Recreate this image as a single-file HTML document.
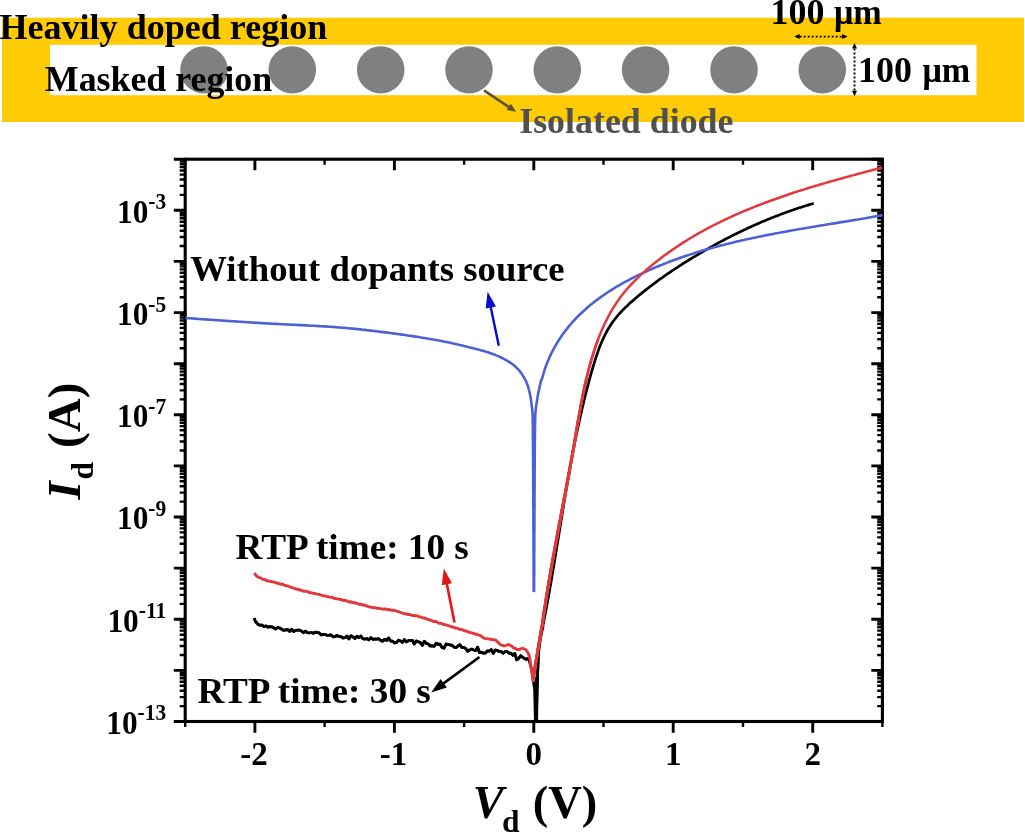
<!DOCTYPE html>
<html lang="en"><head><meta charset="utf-8"><title>Diode I-V characteristics</title>
<style>html,body{margin:0;padding:0;background:#fff}body{width:1025px;height:837px;overflow:hidden}svg{display:block}</style></head>
<body>
<svg width="1025" height="837" viewBox="0 0 1025 837">
<rect width="1025" height="837" fill="#fff"/>
<rect x="2" y="17.7" width="1022" height="104.3" fill="#ffcb05"/>
<rect x="50" y="44.8" width="926.5" height="50.4" fill="#fff"/>
<ellipse cx="204.0" cy="69.85" rx="23.8" ry="23.6" fill="#808080"/>
<ellipse cx="292.3" cy="69.85" rx="23.8" ry="23.6" fill="#808080"/>
<ellipse cx="380.7" cy="69.85" rx="23.8" ry="23.6" fill="#808080"/>
<ellipse cx="469.0" cy="69.85" rx="23.8" ry="23.6" fill="#808080"/>
<ellipse cx="557.3" cy="69.85" rx="23.8" ry="23.6" fill="#808080"/>
<ellipse cx="645.6" cy="69.85" rx="23.8" ry="23.6" fill="#808080"/>
<ellipse cx="734.0" cy="69.85" rx="23.8" ry="23.6" fill="#808080"/>
<ellipse cx="822.3" cy="69.85" rx="23.8" ry="23.6" fill="#808080"/>
<g font-family="'Liberation Serif','Times New Roman',serif" font-weight="bold" font-size="35.9px" fill="#000">
<text x="-0.5" y="39.1" textLength="327.8" lengthAdjust="spacingAndGlyphs">Heavily doped region</text>
<text x="44.8" y="90.7" textLength="227.4" lengthAdjust="spacingAndGlyphs">Masked region</text>
<text x="770.5" y="24.4">100</text><text x="834" y="24.4" textLength="47.8" lengthAdjust="spacingAndGlyphs">μm</text>
<text x="858" y="82.1">100</text><text x="922.4" y="82.1" textLength="47.8" lengthAdjust="spacingAndGlyphs">μm</text>
<text x="519.2" y="133.1" fill="#505050" textLength="214.3" lengthAdjust="spacingAndGlyphs">Isolated diode</text>
</g>
<line x1="484.0" y1="90.3" x2="509.5" y2="107.4" stroke="#5c5138" stroke-width="2.6"/><polygon points="516.2,111.8 506.6,109.9 510.8,103.7" fill="#5c5138"/>
<line x1="799.7" y1="36.6" x2="843.1" y2="36.6" stroke="#000" stroke-width="1.9" stroke-dasharray="1.9 2.1"/><polygon points="847.6,36.6 842.1,39.1 842.1,34.1" fill="#000"/><polygon points="794.2,36.6 799.7,39.1 799.7,34.1" fill="#000"/>
<line x1="854.5" y1="48.5" x2="854.5" y2="91.8" stroke="#000" stroke-width="1.9" stroke-dasharray="1.9 2.1"/><polygon points="854.5,96.3 852.0,90.8 857.0,90.8" fill="#000"/><polygon points="854.5,43.0 852.0,48.5 857.0,48.5" fill="#000"/>
<rect x="185.2" y="159.2" width="697.2" height="562.3" fill="none" stroke="#000" stroke-width="3.1"/>
<path d="M254.9 721.5v11.2M254.9 159.2v11M394.4 721.5v11.2M394.4 159.2v11M533.8 721.5v11.2M533.8 159.2v11M673.2 721.5v11.2M673.2 159.2v11M812.7 721.5v11.2M812.7 159.2v11M185.2 721.5h-11.4M882.4 721.5h-11.1M185.2 670.4h-11.4M882.4 670.4h-11.1M185.2 619.3h-11.4M882.4 619.3h-11.1M185.2 568.1h-11.4M882.4 568.1h-11.1M185.2 517.0h-11.4M882.4 517.0h-11.1M185.2 465.9h-11.4M882.4 465.9h-11.1M185.2 414.8h-11.4M882.4 414.8h-11.1M185.2 363.7h-11.4M882.4 363.7h-11.1M185.2 312.6h-11.4M882.4 312.6h-11.1M185.2 261.4h-11.4M882.4 261.4h-11.1M185.2 210.3h-11.4M882.4 210.3h-11.1M185.2 159.2h-11.4M882.4 159.2h-11.1" stroke="#000" stroke-width="2.9" fill="none"/>
<path d="M185.2 721.5v5.6M185.2 159.2v5.6M324.6 721.5v5.6M324.6 159.2v5.6M464.1 721.5v5.6M464.1 159.2v5.6M603.5 721.5v5.6M603.5 159.2v5.6M743.0 721.5v5.6M743.0 159.2v5.6M882.4 721.5v5.6M882.4 159.2v5.6M185.2 706.1h-5.5M882.4 706.1h-5.2M185.2 697.1h-5.5M882.4 697.1h-5.2M185.2 690.7h-5.5M882.4 690.7h-5.2M185.2 685.8h-5.5M882.4 685.8h-5.2M185.2 681.7h-5.5M882.4 681.7h-5.2M185.2 678.3h-5.5M882.4 678.3h-5.2M185.2 675.3h-5.5M882.4 675.3h-5.2M185.2 672.7h-5.5M882.4 672.7h-5.2M185.2 655.0h-5.5M882.4 655.0h-5.2M185.2 646.0h-5.5M882.4 646.0h-5.2M185.2 639.6h-5.5M882.4 639.6h-5.2M185.2 634.7h-5.5M882.4 634.7h-5.2M185.2 630.6h-5.5M882.4 630.6h-5.2M185.2 627.2h-5.5M882.4 627.2h-5.2M185.2 624.2h-5.5M882.4 624.2h-5.2M185.2 621.6h-5.5M882.4 621.6h-5.2M185.2 603.9h-5.5M882.4 603.9h-5.2M185.2 594.9h-5.5M882.4 594.9h-5.2M185.2 588.5h-5.5M882.4 588.5h-5.2M185.2 583.5h-5.5M882.4 583.5h-5.2M185.2 579.5h-5.5M882.4 579.5h-5.2M185.2 576.1h-5.5M882.4 576.1h-5.2M185.2 573.1h-5.5M882.4 573.1h-5.2M185.2 570.5h-5.5M882.4 570.5h-5.2M185.2 552.8h-5.5M882.4 552.8h-5.2M185.2 543.8h-5.5M882.4 543.8h-5.2M185.2 537.4h-5.5M882.4 537.4h-5.2M185.2 532.4h-5.5M882.4 532.4h-5.2M185.2 528.4h-5.5M882.4 528.4h-5.2M185.2 524.9h-5.5M882.4 524.9h-5.2M185.2 522.0h-5.5M882.4 522.0h-5.2M185.2 519.4h-5.5M882.4 519.4h-5.2M185.2 501.6h-5.5M882.4 501.6h-5.2M185.2 492.6h-5.5M882.4 492.6h-5.2M185.2 486.3h-5.5M882.4 486.3h-5.2M185.2 481.3h-5.5M882.4 481.3h-5.2M185.2 477.2h-5.5M882.4 477.2h-5.2M185.2 473.8h-5.5M882.4 473.8h-5.2M185.2 470.9h-5.5M882.4 470.9h-5.2M185.2 468.2h-5.5M882.4 468.2h-5.2M185.2 450.5h-5.5M882.4 450.5h-5.2M185.2 441.5h-5.5M882.4 441.5h-5.2M185.2 435.1h-5.5M882.4 435.1h-5.2M185.2 430.2h-5.5M882.4 430.2h-5.2M185.2 426.1h-5.5M882.4 426.1h-5.2M185.2 422.7h-5.5M882.4 422.7h-5.2M185.2 419.7h-5.5M882.4 419.7h-5.2M185.2 417.1h-5.5M882.4 417.1h-5.2M185.2 399.4h-5.5M882.4 399.4h-5.2M185.2 390.4h-5.5M882.4 390.4h-5.2M185.2 384.0h-5.5M882.4 384.0h-5.2M185.2 379.1h-5.5M882.4 379.1h-5.2M185.2 375.0h-5.5M882.4 375.0h-5.2M185.2 371.6h-5.5M882.4 371.6h-5.2M185.2 368.6h-5.5M882.4 368.6h-5.2M185.2 366.0h-5.5M882.4 366.0h-5.2M185.2 348.3h-5.5M882.4 348.3h-5.2M185.2 339.3h-5.5M882.4 339.3h-5.2M185.2 332.9h-5.5M882.4 332.9h-5.2M185.2 327.9h-5.5M882.4 327.9h-5.2M185.2 323.9h-5.5M882.4 323.9h-5.2M185.2 320.5h-5.5M882.4 320.5h-5.2M185.2 317.5h-5.5M882.4 317.5h-5.2M185.2 314.9h-5.5M882.4 314.9h-5.2M185.2 297.2h-5.5M882.4 297.2h-5.2M185.2 288.2h-5.5M882.4 288.2h-5.2M185.2 281.8h-5.5M882.4 281.8h-5.2M185.2 276.8h-5.5M882.4 276.8h-5.2M185.2 272.8h-5.5M882.4 272.8h-5.2M185.2 269.4h-5.5M882.4 269.4h-5.2M185.2 266.4h-5.5M882.4 266.4h-5.2M185.2 263.8h-5.5M882.4 263.8h-5.2M185.2 246.0h-5.5M882.4 246.0h-5.2M185.2 237.0h-5.5M882.4 237.0h-5.2M185.2 230.7h-5.5M882.4 230.7h-5.2M185.2 225.7h-5.5M882.4 225.7h-5.2M185.2 221.7h-5.5M882.4 221.7h-5.2M185.2 218.2h-5.5M882.4 218.2h-5.2M185.2 215.3h-5.5M882.4 215.3h-5.2M185.2 212.7h-5.5M882.4 212.7h-5.2M185.2 194.9h-5.5M882.4 194.9h-5.2M185.2 185.9h-5.5M882.4 185.9h-5.2M185.2 179.5h-5.5M882.4 179.5h-5.2M185.2 174.6h-5.5M882.4 174.6h-5.2M185.2 170.5h-5.5M882.4 170.5h-5.2M185.2 167.1h-5.5M882.4 167.1h-5.2M185.2 164.2h-5.5M882.4 164.2h-5.2M185.2 161.5h-5.5M882.4 161.5h-5.2" stroke="#000" stroke-width="2.4" fill="none"/>
<g fill="none" stroke-linejoin="round" stroke-linecap="butt">
<polygon points="532,668 534.2,690 534.6,721.5 538.1,721.5 538.4,690 539.1,670 539.6,658 537.5,658 535.5,678" fill="#000" stroke="none"/>
<path d="M254.5 618.0 L254.9 620.2 L255.7 622.0 L256.6 622.5 L258.2 624.6 L260.1 625.2 L262.1 625.2 L264.0 626.6 L265.9 625.9 L267.8 627.1 L269.8 626.6 L271.8 626.8 L273.8 627.8 L275.8 629.0 L277.8 627.5 L279.8 628.0 L281.8 629.3 L283.8 630.4 L285.7 629.8 L287.7 629.6 L289.7 631.4 L291.6 629.2 L293.6 631.6 L295.6 630.3 L297.6 630.1 L299.6 630.2 L301.5 631.0 L303.5 632.7 L305.5 631.1 L307.4 632.6 L309.4 633.0 L311.4 632.5 L313.4 633.3 L315.3 632.1 L317.3 632.3 L319.3 633.1 L321.2 634.9 L323.2 634.4 L325.2 634.3 L327.1 635.4 L329.1 635.2 L331.1 634.9 L333.1 636.8 L335.1 636.7 L337.0 635.3 L339.0 636.6 L341.0 636.6 L343.0 638.0 L345.0 637.7 L347.0 636.1 L348.9 638.9 L350.9 635.8 L352.9 637.0 L354.9 638.5 L356.9 636.2 L358.9 637.7 L360.9 636.0 L362.8 638.7 L364.8 639.2 L366.8 638.5 L368.8 639.9 L370.8 637.6 L372.8 639.3 L374.8 639.0 L376.8 639.1 L378.7 638.7 L380.7 640.6 L382.7 641.2 L384.7 639.3 L386.7 640.4 L388.6 637.9 L390.6 641.1 L392.6 641.1 L394.5 643.0 L396.5 642.5 L398.5 640.2 L400.5 641.0 L402.4 642.5 L404.4 639.6 L406.4 641.9 L408.4 640.7 L410.4 640.6 L412.4 640.4 L414.3 644.1 L416.3 641.0 L418.3 641.8 L420.3 642.6 L422.3 645.3 L424.3 641.3 L426.3 643.4 L428.2 644.0 L430.2 646.0 L432.2 645.8 L434.2 646.3 L436.2 643.3 L438.1 644.3 L440.1 644.2 L442.1 647.5 L444.0 648.2 L446.0 644.0 L448.0 644.4 L449.9 645.0 L451.9 645.2 L453.9 646.9 L455.9 647.7 L457.8 646.1 L459.8 644.7 L461.8 647.4 L463.8 647.3 L465.8 648.7 L467.7 651.3 L469.7 650.0 L471.7 649.1 L473.7 650.0 L475.6 650.7 L477.6 647.1 L479.6 652.7 L481.5 652.2 L483.5 653.2 L485.4 653.0 L487.4 650.8 L489.4 651.1 L491.3 649.6 L493.3 653.4 L495.2 650.0 L497.2 650.4 L499.2 651.7 L501.1 651.7 L503.1 653.2 L505.0 651.7 L507.0 651.7 L509.0 653.1 L510.9 653.1 L512.9 655.3 L514.8 653.4 L516.7 659.8 L518.7 658.4 L520.6 655.7 L522.4 657.0 L524.3 658.4 L526.2 659.3 L528.0 658.3 L529.5 662.0 L531.8 670.0 L534.6 690.0 L535.3 720.0 L536.3 720.0 L536.3 718.5 L536.4 717.0 L536.4 715.5 L536.5 714.1 L536.5 712.6 L536.6 711.1 L536.6 709.6 L536.7 708.1 L536.7 706.6 L536.7 705.2 L536.8 703.7 L536.8 702.2 L536.9 700.7 L536.9 699.2 L537.0 697.7 L537.0 696.2 L537.1 694.8 L537.1 693.3 L537.1 691.8 L537.2 690.3 L537.2 688.8 L537.3 687.3 L537.3 685.8 L537.4 684.4 L537.4 682.9 L537.4 681.4 L537.5 679.9 L537.5 678.4 L537.6 676.9 L537.6 675.4 L537.7 674.0 L537.7 672.5 L537.8 671.0 L537.8 669.5 L537.9 668.0 L537.9 666.5 L538.0 665.1 L538.1 663.6 L538.1 662.1 L538.2 660.6 L538.3 659.1 L538.4 657.6 L538.5 656.1 L538.6 654.7 L538.7 653.2 L538.8 651.7 L538.9 650.2 L539.1 648.8 L539.3 647.3 L539.4 645.8 L539.6 644.4 L539.9 642.9 L540.1 641.4 L540.3 640.0 L540.6 638.5 L540.8 637.0 L541.1 635.6 L541.4 634.1 L541.7 632.6 L542.0 631.2 L542.3 629.7 L542.7 628.3 L543.0 626.8 L543.0 625.2 L543.3 623.8 L543.6 622.3 L543.9 620.8 L544.2 619.4 L544.4 617.9 L544.7 616.5 L545.0 615.0 L545.3 613.5 L545.6 612.1 L545.9 610.6 L546.1 609.1 L546.4 607.7 L546.7 606.2 L547.0 604.7 L547.2 603.3 L547.5 601.8 L547.8 600.3 L548.0 598.8 L548.3 597.4 L548.6 595.9 L548.8 594.4 L549.1 593.0 L549.4 591.5 L549.6 590.0 L549.9 588.6 L550.1 587.1 L550.4 585.6 L550.7 584.1 L550.9 582.7 L551.2 581.2 L551.4 579.7 L551.7 578.2 L551.9 576.8 L552.2 575.3 L552.4 573.8 L552.7 572.3 L552.9 570.9 L553.2 569.4 L553.4 567.9 L553.7 566.4 L553.9 565.0 L554.1 563.5 L554.4 562.0 L554.6 560.5 L554.9 559.1 L555.1 557.6 L555.4 556.1 L555.6 554.6 L555.8 553.2 L556.1 551.7 L556.3 550.2 L556.6 548.7 L556.8 547.3 L557.0 545.8 L557.3 544.3 L557.5 542.8 L557.8 541.4 L558.0 539.9 L558.2 538.4 L558.5 536.9 L558.7 535.4 L559.0 534.0 L559.2 532.5 L559.4 531.0 L559.7 529.5 L559.9 528.1 L560.1 526.6 L560.4 525.1 L560.6 523.6 L560.9 522.1 L561.1 520.7 L561.3 519.2 L561.6 517.7 L561.8 516.2 L562.1 514.8 L562.3 513.3 L562.5 511.8 L562.8 510.3 L563.0 508.8 L563.3 507.4 L563.5 505.9 L563.8 504.4 L564.0 502.9 L564.2 501.5 L564.5 500.0 L564.7 498.5 L565.0 497.0 L565.2 495.5 L565.5 494.1 L565.7 492.6 L566.0 491.1 L566.2 489.6 L566.5 488.2 L566.7 486.7 L567.0 485.2 L567.2 483.7 L567.5 482.3 L567.7 480.8 L568.0 479.3 L568.3 477.8 L568.5 476.4 L568.8 474.9 L569.0 473.4 L569.3 471.9 L569.6 470.5 L569.8 469.0 L570.1 467.5 L570.4 466.0 L570.6 464.6 L570.9 463.1 L571.2 461.6 L571.4 460.1 L571.7 458.7 L572.0 457.2 L572.3 455.7 L572.5 454.3 L572.8 452.8 L573.1 451.3 L573.4 449.8 L573.7 448.4 L574.0 446.9 L574.2 445.4 L574.5 444.0 L574.8 442.5 L575.1 441.0 L575.4 439.5 L575.7 438.1 L576.0 436.6 L576.3 435.1 L576.6 433.7 L576.9 432.2 L577.2 430.7 L577.5 429.3 L577.8 427.8 L578.2 426.3 L578.5 424.9 L578.8 423.4 L579.1 421.9 L579.4 420.5 L579.8 419.0 L580.1 417.6 L580.4 416.1 L580.7 414.6 L581.1 413.2 L581.4 411.7 L581.7 410.2 L582.1 408.8 L582.4 407.3 L582.8 405.9 L583.1 404.4 L583.5 402.9 L583.8 401.5 L584.2 400.0 L584.5 398.6 L584.9 397.1 L585.2 395.7 L585.6 394.2 L586.0 392.7 L586.4 391.3 L586.7 389.8 L587.1 388.4 L587.5 386.9 L587.9 385.5 L588.3 384.0 L588.6 382.6 L589.0 381.1 L589.4 379.7 L589.8 378.2 L590.2 376.8 L590.6 375.3 L591.0 373.9 L591.4 372.4 L591.9 371.0 L592.3 369.5 L592.7 368.1 L593.1 366.6 L593.5 365.2 L594.0 363.7 L594.4 362.3 L594.9 360.9 L595.3 359.4 L595.8 358.0 L596.2 356.6 L596.7 355.2 L597.2 353.7 L597.7 352.3 L598.2 350.9 L598.7 349.5 L599.2 348.1 L599.7 346.7 L600.3 345.4 L600.8 344.0 L601.4 342.6 L602.0 341.3 L602.6 339.9 L603.2 338.6 L603.8 337.2 L604.5 335.9 L605.1 334.6 L605.8 333.3 L606.5 332.0 L607.2 330.7 L607.9 329.5 L608.6 328.2 L609.4 327.0 L610.2 325.7 L611.0 324.5 L611.8 323.3 L612.6 322.1 L613.5 320.9 L614.4 319.8 L615.3 318.6 L616.2 317.5 L617.1 316.4 L618.0 315.2 L619.0 314.1 L620.0 313.0 L621.0 312.0 L622.0 310.9 L623.0 309.8 L624.1 308.8 L625.1 307.7 L626.2 306.7 L627.3 305.7 L628.3 304.7 L629.4 303.6 L630.5 302.6 L631.7 301.6 L632.8 300.7 L633.9 299.7 L635.0 298.7 L636.2 297.7 L637.3 296.8 L638.5 295.8 L639.6 294.8 L640.8 293.9 L642.0 292.9 L643.1 292.0 L644.3 291.1 L645.5 290.1 L646.7 289.2 L647.9 288.3 L649.1 287.3 L650.3 286.4 L651.5 285.5 L652.7 284.6 L653.9 283.7 L655.1 282.8 L656.3 281.9 L657.5 281.0 L658.7 280.1 L659.9 279.2 L661.2 278.4 L662.4 277.5 L663.6 276.6 L664.9 275.7 L666.1 274.9 L667.3 274.0 L668.6 273.2 L669.8 272.3 L671.1 271.5 L672.3 270.6 L673.6 269.8 L674.8 269.0 L676.1 268.1 L677.4 267.3 L678.6 266.5 L679.9 265.7 L681.2 264.8 L682.4 264.0 L683.7 263.2 L685.0 262.4 L686.3 261.6 L687.5 260.8 L688.8 260.0 L690.1 259.2 L691.4 258.5 L692.7 257.7 L694.0 256.9 L695.2 256.1 L696.5 255.4 L697.8 254.6 L699.1 253.8 L700.4 253.1 L701.7 252.3 L703.0 251.5 L704.3 250.8 L705.6 250.1 L706.9 249.3 L708.2 248.6 L709.5 247.8 L710.8 247.1 L712.1 246.4 L713.4 245.7 L714.7 244.9 L716.0 244.2 L717.3 243.5 L718.6 242.8 L719.9 242.1 L721.2 241.4 L722.6 240.7 L723.9 240.0 L725.2 239.3 L726.5 238.6 L727.8 237.9 L729.2 237.3 L730.5 236.6 L731.8 235.9 L733.1 235.2 L734.5 234.6 L735.8 233.9 L737.1 233.3 L738.5 232.6 L739.8 232.0 L741.1 231.3 L742.5 230.7 L743.8 230.0 L745.2 229.4 L746.5 228.8 L747.8 228.1 L749.2 227.5 L750.5 226.9 L751.9 226.3 L753.2 225.7 L754.6 225.1 L756.0 224.5 L757.3 223.9 L758.7 223.3 L760.1 222.7 L761.4 222.1 L762.8 221.5 L764.2 220.9 L765.5 220.4 L766.9 219.8 L768.3 219.2 L769.7 218.7 L771.1 218.1 L772.4 217.6 L773.8 217.0 L775.2 216.5 L776.6 215.9 L778.0 215.4 L779.4 214.9 L780.8 214.3 L782.2 213.8 L783.6 213.3 L785.0 212.8 L786.4 212.3 L787.8 211.7 L789.3 211.2 L790.7 210.7 L792.1 210.2 L793.5 209.8 L794.9 209.3 L796.4 208.8 L797.8 208.3 L799.2 207.8 L800.7 207.4 L802.1 206.9 L803.6 206.4 L805.0 206.0 L806.5 205.5 L807.9 205.1 L809.4 204.6 L810.8 204.2 L812.3 203.8 L813.7 203.3" stroke="#000" stroke-width="2.7" stroke-linejoin="round"/>
<path d="M254.5 618.0 L254.9 620.2 L255.7 622.0 L256.6 622.5 L258.2 624.6 L260.1 625.2 L262.1 625.2 L264.0 626.6 L265.9 625.9 L267.8 627.1 L269.8 626.6 L271.8 626.8 L273.8 627.8 L275.8 629.0 L277.8 627.5 L279.8 628.0 L281.8 629.3 L283.8 630.4 L285.7 629.8 L287.7 629.6 L289.7 631.4 L291.6 629.2 L293.6 631.6 L295.6 630.3 L297.6 630.1 L299.6 630.2 L301.5 631.0 L303.5 632.7 L305.5 631.1 L307.4 632.6 L309.4 633.0 L311.4 632.5 L313.4 633.3 L315.3 632.1 L317.3 632.3 L319.3 633.1 L321.2 634.9 L323.2 634.4 L325.2 634.3 L327.1 635.4 L329.1 635.2 L331.1 634.9 L333.1 636.8 L335.1 636.7 L337.0 635.3 L339.0 636.6 L341.0 636.6 L343.0 638.0 L345.0 637.7 L347.0 636.1 L348.9 638.9 L350.9 635.8 L352.9 637.0 L354.9 638.5 L356.9 636.2 L358.9 637.7 L360.9 636.0 L362.8 638.7 L364.8 639.2 L366.8 638.5 L368.8 639.9 L370.8 637.6 L372.8 639.3 L374.8 639.0 L376.8 639.1 L378.7 638.7 L380.7 640.6 L382.7 641.2 L384.7 639.3 L386.7 640.4 L388.6 637.9 L390.6 641.1 L392.6 641.1 L394.5 643.0 L396.5 642.5 L398.5 640.2 L400.5 641.0 L402.4 642.5 L404.4 639.6 L406.4 641.9 L408.4 640.7 L410.4 640.6 L412.4 640.4 L414.3 644.1 L416.3 641.0 L418.3 641.8 L420.3 642.6 L422.3 645.3 L424.3 641.3 L426.3 643.4 L428.2 644.0 L430.2 646.0 L432.2 645.8 L434.2 646.3 L436.2 643.3 L438.1 644.3 L440.1 644.2 L442.1 647.5 L444.0 648.2 L446.0 644.0 L448.0 644.4 L449.9 645.0 L451.9 645.2 L453.9 646.9 L455.9 647.7 L457.8 646.1 L459.8 644.7 L461.8 647.4 L463.8 647.3 L465.8 648.7 L467.7 651.3 L469.7 650.0 L471.7 649.1 L473.7 650.0 L475.6 650.7 L477.6 647.1 L479.6 652.7 L481.5 652.2 L483.5 653.2 L485.4 653.0 L487.4 650.8 L489.4 651.1 L491.3 649.6 L493.3 653.4 L495.2 650.0 L497.2 650.4 L499.2 651.7 L501.1 651.7 L503.1 653.2 L505.0 651.7 L507.0 651.7 L509.0 653.1 L510.9 653.1 L512.9 655.3 L514.8 653.4 L516.7 659.8 L518.7 658.4 L520.6 655.7 L522.4 657.0 L524.3 658.4 L526.2 659.3 L528.0 658.3" stroke="#000" stroke-width="2.8" stroke-linejoin="round"/>
<path d="M185.5 318.0 L187.0 318.1 L188.5 318.2 L190.0 318.3 L191.5 318.4 L193.0 318.5 L194.5 318.6 L196.0 318.7 L197.5 318.9 L198.9 319.0 L200.4 319.1 L201.9 319.2 L203.4 319.3 L204.9 319.4 L206.4 319.5 L207.9 319.6 L209.4 319.7 L210.9 319.8 L212.4 319.9 L213.9 320.0 L215.4 320.1 L216.9 320.2 L218.4 320.3 L219.9 320.4 L221.4 320.5 L222.9 320.6 L224.4 320.7 L225.9 320.8 L227.3 320.9 L228.8 321.0 L230.3 321.1 L231.8 321.2 L233.3 321.3 L234.8 321.4 L236.3 321.5 L237.8 321.6 L239.3 321.7 L240.8 321.8 L242.3 321.9 L243.8 322.0 L245.3 322.1 L246.8 322.2 L248.3 322.3 L249.8 322.4 L251.3 322.5 L252.8 322.6 L254.3 322.6 L255.8 322.7 L257.2 322.8 L258.7 322.9 L260.2 323.0 L261.7 323.1 L263.2 323.2 L264.7 323.3 L266.2 323.4 L267.7 323.5 L269.2 323.5 L270.7 323.6 L272.2 323.7 L273.7 323.8 L275.2 323.9 L276.7 323.9 L278.2 324.0 L279.7 324.1 L281.2 324.2 L282.7 324.2 L284.2 324.3 L285.7 324.4 L287.2 324.5 L288.7 324.5 L290.2 324.6 L291.7 324.7 L293.2 324.8 L294.7 324.8 L296.2 324.9 L297.7 325.0 L299.1 325.1 L300.6 325.1 L302.1 325.2 L303.6 325.3 L305.1 325.4 L306.6 325.4 L308.1 325.5 L309.6 325.6 L311.1 325.7 L312.6 325.8 L314.1 325.8 L315.6 325.9 L317.1 326.0 L318.6 326.1 L320.1 326.2 L321.6 326.3 L323.1 326.4 L324.6 326.4 L326.1 326.5 L327.6 326.6 L329.1 326.7 L330.6 326.8 L332.1 326.9 L333.5 327.0 L335.0 327.1 L336.5 327.2 L338.0 327.4 L339.5 327.5 L341.0 327.6 L342.5 327.7 L344.0 327.8 L345.5 327.9 L347.0 328.1 L348.5 328.2 L350.0 328.4 L351.4 328.5 L352.9 328.6 L354.4 328.8 L355.9 328.9 L357.4 329.1 L358.9 329.3 L360.4 329.4 L361.9 329.6 L363.4 329.7 L364.9 329.9 L366.4 330.1 L367.8 330.2 L369.3 330.4 L370.8 330.6 L372.3 330.8 L373.8 331.0 L375.3 331.1 L376.8 331.3 L378.3 331.5 L379.7 331.7 L381.2 331.9 L382.7 332.1 L384.2 332.3 L385.7 332.4 L387.2 332.6 L388.7 332.8 L390.1 333.0 L391.6 333.2 L393.1 333.4 L394.6 333.6 L396.1 333.8 L397.6 334.0 L399.1 334.2 L400.5 334.4 L402.0 334.6 L403.5 334.8 L405.0 335.0 L406.5 335.2 L408.0 335.5 L409.4 335.7 L410.9 335.9 L412.4 336.1 L413.9 336.4 L415.4 336.6 L416.9 336.8 L418.3 337.0 L419.8 337.3 L421.3 337.5 L422.8 337.8 L424.3 338.0 L425.7 338.2 L427.2 338.5 L428.7 338.7 L430.2 339.0 L431.6 339.2 L433.1 339.5 L434.6 339.8 L436.1 340.0 L437.5 340.3 L439.0 340.6 L440.5 340.8 L441.9 341.1 L443.4 341.4 L444.9 341.7 L446.4 342.0 L447.8 342.3 L449.3 342.6 L450.8 342.9 L452.2 343.3 L453.7 343.6 L455.1 343.9 L456.6 344.3 L458.1 344.6 L459.5 344.9 L461.0 345.3 L462.4 345.6 L463.9 346.0 L465.3 346.3 L466.8 346.7 L468.3 347.0 L469.7 347.4 L471.2 347.7 L472.6 348.1 L474.1 348.5 L475.6 348.8 L477.0 349.2 L478.5 349.6 L479.9 350.0 L481.4 350.4 L482.8 350.8 L484.2 351.2 L485.7 351.6 L487.1 352.1 L488.5 352.5 L489.9 353.0 L491.3 353.5 L492.7 354.0 L494.2 354.5 L495.6 355.1 L496.9 355.6 L498.3 356.2 L499.7 356.9 L501.1 357.5 L502.4 358.2 L503.7 358.8 L505.1 359.5 L506.4 360.3 L507.7 361.0 L509.0 361.8 L510.2 362.6 L511.5 363.5 L512.7 364.4 L513.9 365.3 L515.0 366.2 L516.1 367.2 L517.1 368.3 L518.2 369.4 L519.2 370.5 L520.1 371.7 L521.1 372.9 L521.9 374.1 L522.7 375.4 L523.5 376.6 L524.3 377.9 L525.0 379.3 L525.7 380.6 L526.3 382.0 L526.9 383.4 L527.4 384.8 L527.9 386.2 L528.3 387.6 L528.7 389.0 L529.1 390.5 L529.5 391.9 L529.8 393.4 L530.1 394.9 L530.4 396.4 L530.7 397.9 L530.9 399.3 L531.1 400.8 L531.3 402.3 L531.5 403.8 L531.7 405.3 L531.9 406.8 L532.1 408.2 L532.3 409.7 L532.4 411.2 L532.5 412.7 L532.6 414.2 L532.6 415.7 L532.7 417.2 L532.7 418.7 L532.7 420.2 L532.7 421.7 L532.8 423.2 L532.8 424.7 L532.8 426.2 L532.8 427.7 L532.8 429.2 L532.9 430.7 L532.9 432.2 L532.9 433.7 L532.9 435.2 L532.9 436.7 L532.9 438.2 L532.9 439.7 L533.0 441.2 L533.0 442.7 L533.0 444.2 L533.0 445.7 L533.0 447.2 L533.0 448.7 L533.0 450.2 L533.0 451.7 L533.0 453.2 L533.1 454.7 L533.1 456.2 L533.1 457.7 L533.1 459.2 L533.1 460.7 L533.1 462.2 L533.1 463.7 L533.1 465.2 L533.1 466.7 L533.1 468.2 L533.1 469.7 L533.2 471.2 L533.2 472.6 L533.2 474.1 L533.2 475.6 L533.2 477.1 L533.2 478.6 L533.2 480.1 L533.2 481.6 L533.2 483.1 L533.2 484.6 L533.2 486.1 L533.2 487.6 L533.2 489.1 L533.3 490.6 L533.3 492.1 L533.3 493.6 L533.3 495.1 L533.3 496.6 L533.3 498.1 L533.3 499.6 L533.3 501.1 L533.3 502.6 L533.3 504.1 L533.3 505.6 L533.3 507.1 L533.3 508.6 L533.4 510.1 L533.4 511.6 L533.4 513.1 L533.4 514.6 L533.4 516.1 L533.4 517.6 L533.4 519.1 L533.4 520.6 L533.4 522.1 L533.4 523.6 L533.4 525.1 L533.4 526.6 L533.4 528.1 L533.4 529.6 L533.5 531.1 L533.5 532.6 L533.5 534.1 L533.5 535.6 L533.5 537.1 L533.5 538.6 L533.5 540.1 L533.5 541.6 L533.5 543.1 L533.5 544.6 L533.5 546.1 L533.5 547.6 L533.5 549.1 L533.5 550.6 L533.5 552.0 L533.6 553.5 L533.6 555.0 L533.6 556.5 L533.6 558.0 L533.6 559.5 L533.6 561.0 L533.6 562.5 L533.6 564.0 L533.6 565.5 L533.6 567.0 L533.6 568.5 L533.6 570.0 L533.6 571.5 L533.6 573.0 L533.6 574.5 L533.6 576.0 L533.7 577.5 L533.7 579.0 L533.7 580.5 L533.7 582.0 L533.7 583.5 L533.7 585.0 L533.7 586.5 L533.7 588.0 L533.7 589.5 L533.7 591.0 L534.1 591.0 L534.1 589.5 L534.1 588.0 L534.1 586.5 L534.1 585.0 L534.1 583.6 L534.1 582.1 L534.1 580.6 L534.1 579.1 L534.1 577.6 L534.2 576.1 L534.2 574.6 L534.2 573.1 L534.2 571.6 L534.2 570.1 L534.2 568.7 L534.2 567.2 L534.2 565.7 L534.2 564.2 L534.2 562.7 L534.2 561.2 L534.2 559.7 L534.2 558.2 L534.2 556.7 L534.2 555.2 L534.2 553.8 L534.2 552.3 L534.3 550.8 L534.3 549.3 L534.3 547.8 L534.3 546.3 L534.3 544.8 L534.3 543.3 L534.3 541.8 L534.3 540.3 L534.3 538.9 L534.3 537.4 L534.3 535.9 L534.3 534.4 L534.3 532.9 L534.3 531.4 L534.4 529.9 L534.4 528.4 L534.4 526.9 L534.4 525.5 L534.4 524.0 L534.4 522.5 L534.4 521.0 L534.4 519.5 L534.4 518.0 L534.4 516.5 L534.4 515.0 L534.4 513.5 L534.4 512.0 L534.4 510.6 L534.5 509.1 L534.5 507.6 L534.5 506.1 L534.5 504.6 L534.5 503.1 L534.5 501.6 L534.5 500.1 L534.5 498.6 L534.5 497.1 L534.5 495.7 L534.5 494.2 L534.5 492.7 L534.5 491.2 L534.6 489.7 L534.6 488.2 L534.6 486.7 L534.6 485.2 L534.6 483.7 L534.6 482.3 L534.6 480.8 L534.6 479.3 L534.6 477.8 L534.6 476.3 L534.6 474.8 L534.6 473.3 L534.6 471.8 L534.6 470.3 L534.7 468.8 L534.7 467.4 L534.7 465.9 L534.7 464.4 L534.7 462.9 L534.7 461.4 L534.7 459.9 L534.7 458.4 L534.7 456.9 L534.7 455.4 L534.7 453.9 L534.7 452.5 L534.8 451.0 L534.8 449.5 L534.8 448.0 L534.8 446.5 L534.8 445.0 L534.8 443.5 L534.8 442.0 L534.8 440.5 L534.9 439.0 L534.9 437.6 L534.9 436.1 L534.9 434.6 L534.9 433.1 L534.9 431.6 L535.0 430.1 L535.0 428.6 L535.0 427.1 L535.0 425.6 L535.1 424.1 L535.1 422.7 L535.1 421.2 L535.2 419.7 L535.2 418.2 L535.2 416.7 L535.3 415.2 L535.4 413.7 L535.5 412.3 L535.6 410.8 L535.7 409.3 L535.9 407.8 L536.1 406.3 L536.3 404.8 L536.6 403.4 L536.8 401.9 L537.0 400.4 L537.3 398.9 L537.5 397.5 L537.7 396.0 L538.0 394.5 L538.3 393.1 L538.6 391.6 L538.9 390.2 L539.2 388.7 L539.5 387.3 L539.8 385.8 L540.2 384.3 L540.5 382.9 L540.9 381.4 L541.2 380.0 L542.0 379.0 L542.4 377.5 L542.8 376.0 L543.2 374.4 L543.7 372.9 L544.1 371.5 L544.6 370.0 L545.1 368.5 L545.6 367.0 L546.1 365.6 L546.7 364.2 L547.2 362.7 L547.8 361.3 L548.4 359.9 L549.0 358.5 L549.6 357.1 L550.2 355.7 L550.9 354.4 L551.5 353.0 L552.2 351.7 L552.9 350.3 L553.6 349.0 L554.3 347.7 L555.1 346.4 L555.8 345.1 L556.6 343.8 L557.3 342.5 L558.1 341.2 L558.9 340.0 L559.7 338.7 L560.6 337.5 L561.4 336.2 L562.2 335.0 L563.1 333.8 L564.0 332.6 L564.9 331.4 L565.8 330.2 L566.7 329.1 L567.6 327.9 L568.5 326.7 L569.5 325.6 L570.4 324.5 L571.4 323.4 L572.4 322.2 L573.4 321.1 L574.4 320.0 L575.4 319.0 L576.4 317.9 L577.4 316.8 L578.5 315.8 L579.5 314.7 L580.6 313.7 L581.7 312.7 L582.8 311.7 L583.9 310.7 L585.0 309.7 L586.1 308.7 L587.2 307.7 L588.3 306.7 L589.5 305.8 L590.6 304.8 L591.8 303.9 L592.9 303.0 L594.1 302.1 L595.3 301.1 L596.5 300.2 L597.7 299.4 L598.9 298.5 L600.1 297.6 L601.3 296.7 L602.5 295.9 L603.8 295.0 L605.0 294.2 L606.2 293.3 L607.5 292.5 L608.7 291.7 L610.0 290.9 L611.3 290.1 L612.5 289.3 L613.8 288.5 L615.1 287.7 L616.4 286.9 L617.7 286.2 L619.0 285.4 L620.3 284.7 L621.6 283.9 L622.9 283.2 L624.2 282.4 L625.6 281.7 L626.9 281.0 L628.2 280.3 L629.6 279.6 L630.9 278.9 L632.2 278.2 L633.6 277.5 L634.9 276.9 L636.3 276.2 L637.6 275.5 L639.0 274.9 L640.3 274.2 L641.7 273.6 L643.0 272.9 L644.4 272.3 L645.8 271.7 L647.1 271.0 L648.5 270.4 L649.9 269.8 L651.2 269.2 L652.6 268.6 L654.0 268.0 L655.4 267.4 L656.8 266.8 L658.1 266.3 L659.5 265.7 L660.9 265.1 L662.3 264.6 L663.7 264.0 L665.1 263.5 L666.5 262.9 L667.9 262.4 L669.3 261.8 L670.7 261.3 L672.1 260.8 L673.5 260.3 L674.9 259.8 L676.3 259.2 L677.7 258.7 L679.1 258.2 L680.5 257.7 L681.9 257.2 L683.3 256.8 L684.8 256.3 L686.2 255.8 L687.6 255.3 L689.0 254.9 L690.4 254.4 L691.9 253.9 L693.3 253.5 L694.7 253.0 L696.1 252.6 L697.6 252.1 L699.0 251.7 L700.4 251.3 L701.9 250.8 L703.3 250.4 L704.7 250.0 L706.2 249.6 L707.6 249.2 L709.1 248.8 L710.5 248.3 L711.9 247.9 L713.4 247.5 L714.8 247.1 L716.3 246.8 L717.7 246.4 L719.2 246.0 L720.6 245.6 L722.1 245.2 L723.5 244.9 L725.0 244.5 L726.4 244.1 L727.9 243.8 L729.3 243.4 L730.8 243.0 L732.3 242.7 L733.7 242.3 L735.2 242.0 L736.6 241.6 L738.1 241.3 L739.6 241.0 L741.0 240.6 L742.5 240.3 L743.9 240.0 L745.4 239.6 L746.9 239.3 L748.3 239.0 L749.8 238.7 L751.3 238.3 L752.8 238.0 L754.2 237.7 L755.7 237.4 L757.2 237.1 L758.6 236.8 L760.1 236.5 L761.6 236.2 L763.1 235.9 L764.5 235.6 L766.0 235.3 L767.5 235.0 L769.0 234.7 L770.4 234.4 L771.9 234.2 L773.4 233.9 L774.9 233.6 L776.3 233.3 L777.8 233.0 L779.3 232.8 L780.8 232.5 L782.3 232.2 L783.7 231.9 L785.2 231.7 L786.7 231.4 L788.2 231.1 L789.7 230.9 L791.1 230.6 L792.6 230.3 L794.1 230.1 L795.6 229.8 L797.1 229.6 L798.5 229.3 L800.0 229.0 L801.5 228.8 L803.0 228.5 L804.5 228.3 L806.0 228.0 L807.4 227.8 L808.9 227.5 L810.4 227.3 L811.9 227.0 L813.4 226.8 L814.8 226.5 L816.3 226.3 L817.8 226.0 L819.3 225.8 L820.8 225.5 L822.3 225.3 L823.7 225.1 L825.2 224.8 L826.7 224.6 L828.2 224.3 L829.7 224.1 L831.1 223.8 L832.6 223.6 L834.1 223.4 L835.6 223.1 L837.0 222.9 L838.5 222.6 L840.0 222.4 L841.5 222.1 L843.0 221.9 L844.4 221.7 L845.9 221.4 L847.4 221.2 L848.9 220.9 L850.3 220.7 L851.8 220.4 L853.3 220.2 L854.7 219.9 L856.2 219.7 L857.7 219.5 L859.2 219.2 L860.6 219.0 L862.1 218.7 L863.6 218.5 L865.0 218.2 L866.5 218.0 L868.0 217.7 L869.4 217.4 L870.9 217.2 L872.3 216.9 L873.8 216.7 L875.3 216.4 L876.7 216.2 L878.2 215.9 L879.6 215.6 L881.1 215.4 L882.6 215.1" stroke="#4c61d6" stroke-width="2.6"/>
<path d="M533.2 680.5 L533.4 679.0 L533.6 677.6 L533.7 676.1 L533.9 674.7 L534.1 673.2 L534.3 671.8 L534.6 670.3 L534.8 668.8 L535.0 667.4 L535.2 665.9 L535.5 664.5 L535.7 663.0 L536.0 661.6 L536.2 660.1 L536.4 658.7 L536.7 657.2 L536.9 655.8 L537.2 654.3 L537.4 652.9 L537.6 651.4 L537.9 650.0 L538.1 648.5 L538.4 647.1 L538.6 645.6 L538.9 644.2 L539.1 642.7 L539.3 641.3 L539.6 639.8 L539.8 638.4 L540.1 636.9 L540.3 635.5 L540.6 634.0 L540.8 632.6 L541.1 631.1 L541.3 629.7 L541.6 628.2 L541.8 626.8 L542.2 625.4 L542.4 623.9 L542.6 622.4 L542.8 620.9 L543.0 619.4 L543.2 617.9 L543.5 616.4 L543.7 614.9 L543.9 613.4 L544.1 611.9 L544.3 610.4 L544.6 608.9 L544.8 607.4 L545.0 606.0 L545.3 604.5 L545.5 603.0 L545.7 601.5 L545.9 600.0 L546.2 598.5 L546.4 597.0 L546.7 595.5 L546.9 594.1 L547.1 592.6 L547.4 591.1 L547.6 589.6 L547.9 588.1 L548.1 586.6 L548.4 585.2 L548.6 583.7 L548.9 582.2 L549.1 580.7 L549.4 579.2 L549.6 577.8 L549.9 576.3 L550.1 574.8 L550.4 573.3 L550.6 571.9 L550.9 570.4 L551.1 568.9 L551.4 567.4 L551.7 566.0 L551.9 564.5 L552.2 563.0 L552.5 561.6 L552.7 560.1 L553.0 558.6 L553.3 557.1 L553.5 555.7 L553.8 554.2 L554.1 552.7 L554.3 551.3 L554.6 549.8 L554.9 548.3 L555.1 546.9 L555.4 545.4 L555.7 543.9 L555.9 542.5 L556.2 541.0 L556.5 539.5 L556.8 538.1 L557.0 536.6 L557.3 535.1 L557.6 533.7 L557.9 532.2 L558.1 530.7 L558.4 529.3 L558.7 527.8 L559.0 526.3 L559.2 524.9 L559.5 523.4 L559.8 521.9 L560.1 520.5 L560.4 519.0 L560.6 517.5 L560.9 516.1 L561.2 514.6 L561.5 513.1 L561.7 511.7 L562.0 510.2 L562.3 508.7 L562.6 507.3 L562.9 505.8 L563.1 504.3 L563.4 502.9 L563.7 501.4 L564.0 499.9 L564.2 498.5 L564.5 497.0 L564.8 495.5 L565.1 494.1 L565.4 492.6 L565.6 491.1 L565.9 489.7 L566.2 488.2 L566.5 486.7 L566.7 485.3 L567.0 483.8 L567.3 482.3 L567.6 480.8 L567.8 479.4 L568.1 477.9 L568.4 476.4 L568.7 475.0 L568.9 473.5 L569.2 472.0 L569.5 470.5 L569.7 469.1 L570.0 467.6 L570.3 466.1 L570.5 464.6 L570.8 463.2 L571.1 461.7 L571.3 460.2 L571.6 458.7 L571.9 457.3 L572.1 455.8 L572.4 454.3 L572.7 452.8 L572.9 451.3 L573.2 449.8 L573.4 448.4 L573.7 446.9 L574.0 445.4 L574.2 443.9 L574.5 442.4 L574.7 440.9 L575.0 439.5 L575.2 438.0 L575.5 436.5 L575.7 435.0 L576.0 433.5 L576.2 432.0 L576.5 430.5 L576.7 429.0 L577.0 427.5 L577.2 426.1 L577.5 424.6 L577.8 423.1 L578.0 421.6 L578.3 420.1 L578.5 418.6 L578.8 417.1 L579.0 415.6 L579.3 414.1 L579.6 412.6 L579.8 411.2 L580.1 409.7 L580.4 408.2 L580.7 406.7 L580.9 405.2 L581.2 403.7 L581.5 402.2 L581.8 400.8 L582.1 399.3 L582.3 397.8 L582.6 396.3 L582.9 394.8 L583.2 393.3 L583.5 391.9 L583.8 390.4 L584.2 388.9 L584.5 387.4 L584.8 386.0 L585.1 384.5 L585.4 383.0 L585.8 381.5 L586.1 380.1 L586.4 378.6 L586.8 377.1 L587.1 375.7 L587.5 374.2 L587.9 372.8 L588.2 371.3 L588.6 369.8 L589.0 368.4 L589.4 366.9 L589.8 365.5 L590.2 364.0 L590.6 362.6 L591.0 361.1 L591.4 359.7 L591.8 358.3 L592.2 356.8 L592.7 355.4 L593.1 354.0 L593.6 352.5 L594.0 351.1 L594.5 349.7 L595.0 348.3 L595.4 346.8 L595.9 345.4 L596.4 344.0 L596.9 342.6 L597.4 341.2 L598.0 339.8 L598.5 338.4 L599.0 337.0 L599.6 335.6 L600.1 334.2 L600.7 332.8 L601.3 331.4 L601.8 330.1 L602.4 328.7 L603.0 327.3 L603.7 326.0 L604.3 324.6 L604.9 323.3 L605.6 321.9 L606.2 320.6 L606.9 319.3 L607.6 317.9 L608.3 316.6 L609.0 315.3 L609.7 314.0 L610.4 312.7 L611.1 311.4 L611.9 310.1 L612.6 308.9 L613.4 307.6 L614.2 306.3 L615.0 305.1 L615.8 303.9 L616.6 302.6 L617.5 301.4 L618.3 300.2 L619.2 299.0 L620.0 297.8 L620.9 296.6 L621.8 295.4 L622.7 294.2 L623.7 293.1 L624.6 291.9 L625.6 290.8 L626.5 289.7 L627.5 288.5 L628.5 287.4 L629.5 286.3 L630.5 285.2 L631.5 284.1 L632.6 283.0 L633.6 282.0 L634.7 280.9 L635.7 279.8 L636.8 278.8 L637.9 277.8 L638.9 276.7 L640.0 275.7 L641.1 274.7 L642.2 273.7 L643.3 272.6 L644.5 271.6 L645.6 270.7 L646.7 269.7 L647.8 268.7 L649.0 267.7 L650.1 266.7 L651.3 265.8 L652.4 264.8 L653.6 263.9 L654.8 262.9 L655.9 262.0 L657.1 261.1 L658.3 260.2 L659.5 259.2 L660.6 258.3 L661.8 257.4 L663.0 256.5 L664.2 255.6 L665.4 254.7 L666.6 253.9 L667.8 253.0 L669.1 252.1 L670.3 251.3 L671.5 250.4 L672.7 249.6 L674.0 248.7 L675.2 247.9 L676.4 247.0 L677.7 246.2 L678.9 245.4 L680.2 244.6 L681.4 243.8 L682.7 242.9 L683.9 242.1 L685.2 241.3 L686.5 240.6 L687.7 239.8 L689.0 239.0 L690.3 238.2 L691.6 237.5 L692.9 236.7 L694.2 235.9 L695.4 235.2 L696.7 234.4 L698.0 233.7 L699.3 232.9 L700.7 232.2 L702.0 231.5 L703.3 230.8 L704.6 230.0 L705.9 229.3 L707.2 228.6 L708.5 227.9 L709.9 227.2 L711.2 226.5 L712.5 225.8 L713.9 225.2 L715.2 224.5 L716.6 223.8 L717.9 223.1 L719.2 222.5 L720.6 221.8 L721.9 221.1 L723.3 220.5 L724.7 219.8 L726.0 219.2 L727.4 218.6 L728.7 217.9 L730.1 217.3 L731.5 216.7 L732.8 216.0 L734.2 215.4 L735.6 214.8 L737.0 214.2 L738.4 213.6 L739.7 213.0 L741.1 212.4 L742.5 211.8 L743.9 211.2 L745.3 210.6 L746.7 210.0 L748.1 209.5 L749.5 208.9 L750.9 208.3 L752.3 207.8 L753.7 207.2 L755.1 206.6 L756.5 206.1 L757.9 205.5 L759.3 205.0 L760.7 204.4 L762.1 203.9 L763.5 203.4 L764.9 202.8 L766.3 202.3 L767.8 201.8 L769.2 201.2 L770.6 200.7 L772.0 200.2 L773.4 199.7 L774.9 199.2 L776.3 198.7 L777.7 198.2 L779.1 197.7 L780.6 197.2 L782.0 196.7 L783.4 196.2 L784.8 195.7 L786.3 195.2 L787.7 194.7 L789.1 194.2 L790.6 193.8 L792.0 193.3 L793.4 192.8 L794.9 192.3 L796.3 191.9 L797.7 191.4 L799.2 190.9 L800.6 190.5 L802.1 190.0 L803.5 189.6 L804.9 189.1 L806.4 188.7 L807.8 188.2 L809.3 187.8 L810.7 187.3 L812.1 186.9 L813.6 186.5 L815.0 186.0 L816.5 185.6 L817.9 185.2 L819.3 184.7 L820.8 184.3 L822.2 183.9 L823.7 183.5 L825.1 183.1 L826.5 182.6 L828.0 182.2 L829.4 181.8 L830.9 181.4 L832.3 181.0 L833.7 180.6 L835.2 180.2 L836.6 179.8 L838.1 179.4 L839.5 179.0 L840.9 178.6 L842.4 178.2 L843.8 177.8 L845.2 177.4 L846.7 177.0 L848.1 176.6 L849.5 176.2 L851.0 175.8 L852.4 175.4 L853.8 175.1 L855.3 174.7 L856.7 174.3 L858.1 173.9 L859.5 173.5 L861.0 173.1 L862.4 172.8 L863.8 172.4 L865.2 172.0 L866.6 171.6 L868.1 171.3 L869.5 170.9 L870.9 170.5 L872.3 170.2 L873.7 169.8 L875.1 169.4 L876.6 169.0 L878.0 168.7 L879.4 168.3 L880.8 167.9 L882.2 167.6" stroke="#e2383c" stroke-width="2.5"/>
<path d="M254.5 572.8 L255.2 574.4 L256.1 575.5 L257.2 576.6 L258.5 577.4 L259.8 577.7 L261.1 578.2 L262.5 579.3 L263.9 579.4 L265.3 579.8 L266.7 580.7 L268.2 580.7 L269.7 581.4 L271.2 581.5 L272.6 581.9 L274.1 582.0 L275.6 582.7 L277.1 583.2 L278.5 583.3 L280.0 583.9 L281.4 584.3 L282.9 584.3 L284.3 585.2 L285.7 585.6 L287.1 585.8 L288.6 586.1 L290.0 587.1 L291.4 587.3 L292.9 587.9 L294.3 588.4 L295.7 588.8 L297.2 589.3 L298.6 589.4 L300.0 590.1 L301.5 590.3 L302.9 591.0 L304.4 591.3 L305.8 591.2 L307.3 591.6 L308.7 592.0 L310.2 592.9 L311.6 592.8 L313.1 593.3 L314.5 593.4 L316.0 593.9 L317.5 594.1 L318.9 594.4 L320.4 594.9 L321.9 595.2 L323.3 595.8 L324.8 595.9 L326.2 596.4 L327.7 596.7 L329.2 597.1 L330.6 597.3 L332.1 597.3 L333.5 598.1 L335.0 598.5 L336.4 598.8 L337.9 598.9 L339.4 599.4 L340.8 599.4 L342.3 600.2 L343.7 600.3 L345.2 600.5 L346.6 600.7 L348.1 601.6 L349.5 602.0 L351.0 601.8 L352.5 602.6 L353.9 602.7 L355.4 602.8 L356.8 603.3 L358.3 604.0 L359.7 604.4 L361.2 604.2 L362.6 605.0 L364.1 605.0 L365.6 605.8 L367.0 606.0 L368.5 606.7 L369.9 607.1 L371.4 607.1 L372.8 607.8 L374.3 607.6 L375.8 607.8 L377.2 608.4 L378.7 608.2 L380.2 608.6 L381.7 608.9 L383.2 609.2 L384.7 609.0 L386.2 609.0 L387.7 609.7 L389.2 609.5 L390.6 610.1 L392.1 610.2 L393.6 610.1 L395.0 610.5 L396.4 611.0 L397.9 611.5 L399.3 612.0 L400.7 612.5 L402.1 613.0 L403.6 613.7 L405.0 613.8 L406.5 614.0 L408.0 614.5 L409.4 614.5 L410.9 614.8 L412.4 615.5 L413.9 615.5 L415.3 615.8 L416.8 615.7 L418.2 616.4 L419.7 616.9 L421.1 616.9 L422.5 617.7 L424.0 618.2 L425.4 618.2 L426.8 619.1 L428.3 619.4 L429.7 620.1 L431.1 620.3 L432.5 621.0 L434.0 621.5 L435.4 621.5 L436.8 621.9 L438.2 622.8 L439.7 623.4 L441.1 623.4 L442.5 624.0 L444.0 624.5 L445.4 624.7 L446.8 625.2 L448.3 625.6 L449.7 626.1 L451.1 626.7 L452.6 626.9 L454.0 627.4 L455.5 628.1 L456.9 628.0 L458.3 628.8 L459.8 629.3 L461.2 629.5 L462.6 629.8 L464.0 630.7 L465.5 630.8 L466.9 631.3 L468.3 631.9 L469.7 632.6 L471.2 632.6 L472.6 633.1 L474.1 633.5 L475.5 634.2 L477.0 634.3 L478.4 635.1 L479.7 635.2 L481.1 636.0 L482.4 637.1 L483.7 638.0 L485.0 638.4 L486.4 638.6 L487.9 638.8 L489.4 639.2 L490.9 639.0 L492.4 639.6 L493.9 639.8 L495.2 639.9 L496.5 640.8 L497.7 642.2 L498.9 643.2 L500.1 644.4 L501.4 645.0 L502.6 645.5 L504.0 645.9 L505.4 645.9 L506.9 644.9 L508.3 644.7 L509.7 645.0 L511.0 645.7 L512.3 646.6 L513.7 647.9 L515.0 648.3 L516.3 648.9 L517.7 649.8 L519.1 649.5 L520.6 649.0 L522.1 648.2 L523.4 648.6 L524.7 649.2 L526.0 649.8 L527.2 651.5 L528.0 652.9 L528.5 653.9 L529.0 655.1 L529.3 656.3 L529.6 657.7 L529.9 659.1 L530.2 660.6 L530.4 662.5 L530.6 663.8 L530.8 665.8 L531.0 666.8 L531.2 668.9 L531.5 670.3 L531.7 671.9 L532.0 673.4 L532.2 674.9 L532.5 676.1 L532.7 677.2 L533.0 679.2 L533.2 680.3 L533.4 679.0 L533.6 677.6 L533.7 676.1" stroke="#e2383c" stroke-width="2.9"/>
<path d="M533.2 680.5 L533.4 679.0 L533.6 677.6 L533.7 676.1 L533.9 674.7 L534.1 673.2 L534.3 671.8 L534.6 670.3 L534.8 668.8 L535.0 667.4 L535.2 665.9 L535.5 664.5 L535.7 663.0 L536.0 661.6 L536.2 660.1 L536.4 658.7 L536.7 657.2 L536.9 655.8 L537.2 654.3 L537.4 652.9 L537.6 651.4 L537.9 650.0 L538.1 648.5 L538.4 647.1 L538.6 645.6 L538.9 644.2 L539.1 642.7 L539.3 641.3 L539.6 639.8 L539.8 638.4 L540.1 636.9 L540.3 635.5 L540.6 634.0 L540.8 632.6 L541.1 631.1 L541.3 629.7 L541.6 628.2 L541.8 626.8 L542.2 625.4 L542.4 623.9 L542.6 622.4 L542.8 620.9 L543.0 619.4 L543.2 617.9 L543.5 616.4 L543.7 614.9 L543.9 613.4 L544.1 611.9 L544.3 610.4 L544.6 608.9 L544.8 607.4 L545.0 606.0 L545.3 604.5 L545.5 603.0 L545.7 601.5 L545.9 600.0 L546.2 598.5 L546.4 597.0 L546.7 595.5 L546.9 594.1 L547.1 592.6 L547.4 591.1 L547.6 589.6 L547.9 588.1 L548.1 586.6 L548.4 585.2 L548.6 583.7 L548.9 582.2 L549.1 580.7 L549.4 579.2 L549.6 577.8 L549.9 576.3 L550.1 574.8 L550.4 573.3 L550.6 571.9 L550.9 570.4 L551.1 568.9 L551.4 567.4 L551.7 566.0 L551.9 564.5 L552.2 563.0 L552.5 561.6 L552.7 560.1 L553.0 558.6 L553.3 557.1 L553.5 555.7 L553.8 554.2 L554.1 552.7 L554.3 551.3 L554.6 549.8 L554.9 548.3 L555.1 546.9 L555.4 545.4 L555.7 543.9 L555.9 542.5 L556.2 541.0 L556.5 539.5 L556.8 538.1 L557.0 536.6 L557.3 535.1 L557.6 533.7 L557.9 532.2 L558.1 530.7 L558.4 529.3 L558.7 527.8 L559.0 526.3 L559.2 524.9 L559.5 523.4 L559.8 521.9 L560.1 520.5 L560.4 519.0 L560.6 517.5 L560.9 516.1 L561.2 514.6 L561.5 513.1 L561.7 511.7 L562.0 510.2 L562.3 508.7 L562.6 507.3 L562.9 505.8 L563.1 504.3 L563.4 502.9 L563.7 501.4 L564.0 499.9 L564.2 498.5 L564.5 497.0 L564.8 495.5 L565.1 494.1 L565.4 492.6 L565.6 491.1 L565.9 489.7 L566.2 488.2 L566.5 486.7 L566.7 485.3 L567.0 483.8 L567.3 482.3 L567.6 480.8 L567.8 479.4 L568.1 477.9 L568.4 476.4 L568.7 475.0 L568.9 473.5 L569.2 472.0 L569.5 470.5 L569.7 469.1 L570.0 467.6 L570.3 466.1 L570.5 464.6 L570.8 463.2 L571.1 461.7 L571.3 460.2 L571.6 458.7 L571.9 457.3 L572.1 455.8 L572.4 454.3 L572.7 452.8 L572.9 451.3 L573.2 449.8 L573.4 448.4 L573.7 446.9 L574.0 445.4 L574.2 443.9 L574.5 442.4 L574.7 440.9 L575.0 439.5 L575.2 438.0 L575.5 436.5 L575.7 435.0 L576.0 433.5 L576.2 432.0 L576.5 430.5 L576.7 429.0 L577.0 427.5 L577.2 426.1 L577.5 424.6 L577.8 423.1 L578.0 421.6 L578.3 420.1 L578.5 418.6 L578.8 417.1 L579.0 415.6 L579.3 414.1 L579.6 412.6 L579.8 411.2 L580.1 409.7 L580.4 408.2 L580.7 406.7 L580.9 405.2 L581.2 403.7 L581.5 402.2 L581.8 400.8 L582.1 399.3 L582.3 397.8 L582.6 396.3 L582.9 394.8 L583.2 393.3 L583.5 391.9 L583.8 390.4 L584.2 388.9 L584.5 387.4 L584.8 386.0 L585.1 384.5 L585.4 383.0 L585.8 381.5 L586.1 380.1 L586.4 378.6 L586.8 377.1 L587.1 375.7 L587.5 374.2 L587.9 372.8 L588.2 371.3 L588.6 369.8 L589.0 368.4 L589.4 366.9 L589.8 365.5 L590.2 364.0 L590.6 362.6 L591.0 361.1 L591.4 359.7 L591.8 358.3 L592.2 356.8 L592.7 355.4 L593.1 354.0 L593.6 352.5 L594.0 351.1 L594.5 349.7 L595.0 348.3 L595.4 346.8 L595.9 345.4 L596.4 344.0 L596.9 342.6 L597.4 341.2" stroke="#e2383c" stroke-width="2.6" stroke-linecap="round"/>
<path d="M533.2 680.5 L533.4 679.0 L533.6 677.6 L533.7 676.1 L533.9 674.7 L534.1 673.2 L534.3 671.8 L534.6 670.3 L534.8 668.8 L535.0 667.4 L535.2 665.9 L535.5 664.5 L535.7 663.0 L536.0 661.6 L536.2 660.1 L536.4 658.7 L536.7 657.2 L536.9 655.8 L537.2 654.3 L537.4 652.9 L537.6 651.4 L537.9 650.0 L538.1 648.5 L538.4 647.1 L538.6 645.6 L538.9 644.2 L539.1 642.7 L539.3 641.3 L539.6 639.8 L539.8 638.4 L540.1 636.9 L540.3 635.5 L540.6 634.0 L540.8 632.6 L541.1 631.1 L541.3 629.7 L541.6 628.2 L541.8 626.8 L542.2 625.4 L542.4 623.9 L542.6 622.4 L542.8 620.9 L543.0 619.4 L543.2 617.9 L543.5 616.4 L543.7 614.9 L543.9 613.4 L544.1 611.9 L544.3 610.4 L544.6 608.9 L544.8 607.4 L545.0 606.0 L545.3 604.5 L545.5 603.0 L545.7 601.5 L545.9 600.0 L546.2 598.5 L546.4 597.0 L546.7 595.5 L546.9 594.1 L547.1 592.6 L547.4 591.1 L547.6 589.6 L547.9 588.1 L548.1 586.6 L548.4 585.2 L548.6 583.7 L548.9 582.2 L549.1 580.7 L549.4 579.2 L549.6 577.8 L549.9 576.3 L550.1 574.8 L550.4 573.3 L550.6 571.9 L550.9 570.4 L551.1 568.9 L551.4 567.4 L551.7 566.0 L551.9 564.5 L552.2 563.0 L552.5 561.6 L552.7 560.1 L553.0 558.6 L553.3 557.1 L553.5 555.7 L553.8 554.2 L554.1 552.7 L554.3 551.3 L554.6 549.8 L554.9 548.3 L555.1 546.9 L555.4 545.4 L555.7 543.9 L555.9 542.5 L556.2 541.0 L556.5 539.5 L556.8 538.1 L557.0 536.6 L557.3 535.1 L557.6 533.7 L557.9 532.2 L558.1 530.7 L558.4 529.3 L558.7 527.8 L559.0 526.3 L559.2 524.9 L559.5 523.4 L559.8 521.9 L560.1 520.5 L560.4 519.0 L560.6 517.5 L560.9 516.1 L561.2 514.6 L561.5 513.1 L561.7 511.7 L562.0 510.2 L562.3 508.7 L562.6 507.3 L562.9 505.8 L563.1 504.3 L563.4 502.9 L563.7 501.4 L564.0 499.9 L564.2 498.5 L564.5 497.0 L564.8 495.5 L565.1 494.1 L565.4 492.6 L565.6 491.1 L565.9 489.7 L566.2 488.2 L566.5 486.7 L566.7 485.3 L567.0 483.8 L567.3 482.3 L567.6 480.8 L567.8 479.4 L568.1 477.9 L568.4 476.4 L568.7 475.0 L568.9 473.5 L569.2 472.0 L569.5 470.5 L569.7 469.1 L570.0 467.6 L570.3 466.1 L570.5 464.6 L570.8 463.2 L571.1 461.7 L571.3 460.2 L571.6 458.7 L571.9 457.3 L572.1 455.8 L572.4 454.3 L572.7 452.8 L572.9 451.3 L573.2 449.8 L573.4 448.4 L573.7 446.9 L574.0 445.4 L574.2 443.9 L574.5 442.4 L574.7 440.9 L575.0 439.5 L575.2 438.0 L575.5 436.5 L575.7 435.0 L576.0 433.5 L576.2 432.0 L576.5 430.5 L576.7 429.0 L577.0 427.5 L577.2 426.1 L577.5 424.6 L577.8 423.1 L578.0 421.6 L578.3 420.1 L578.5 418.6 L578.8 417.1 L579.0 415.6 L579.3 414.1 L579.6 412.6 L579.8 411.2 L580.1 409.7 L580.4 408.2 L580.7 406.7 L580.9 405.2 L581.2 403.7 L581.5 402.2 L581.8 400.8 L582.1 399.3 L582.3 397.8 L582.6 396.3 L582.9 394.8 L583.2 393.3 L583.5 391.9 L583.8 390.4 L584.2 388.9 L584.5 387.4 L584.8 386.0 L585.1 384.5 L585.4 383.0 L585.8 381.5 L586.1 380.1" stroke="#e2383c" stroke-width="2.8" stroke-linecap="round"/>
<path d="M533.2 680.5 L533.4 679.0 L533.6 677.6 L533.7 676.1 L533.9 674.7 L534.1 673.2 L534.3 671.8 L534.6 670.3 L534.8 668.8 L535.0 667.4 L535.2 665.9 L535.5 664.5 L535.7 663.0 L536.0 661.6 L536.2 660.1 L536.4 658.7 L536.7 657.2 L536.9 655.8 L537.2 654.3 L537.4 652.9 L537.6 651.4 L537.9 650.0 L538.1 648.5 L538.4 647.1 L538.6 645.6 L538.9 644.2 L539.1 642.7 L539.3 641.3 L539.6 639.8 L539.8 638.4 L540.1 636.9 L540.3 635.5 L540.6 634.0 L540.8 632.6 L541.1 631.1 L541.3 629.7 L541.6 628.2 L541.8 626.8 L542.2 625.4 L542.4 623.9 L542.6 622.4 L542.8 620.9 L543.0 619.4 L543.2 617.9 L543.5 616.4 L543.7 614.9 L543.9 613.4 L544.1 611.9 L544.3 610.4 L544.6 608.9 L544.8 607.4 L545.0 606.0 L545.3 604.5 L545.5 603.0 L545.7 601.5 L545.9 600.0 L546.2 598.5 L546.4 597.0 L546.7 595.5 L546.9 594.1 L547.1 592.6 L547.4 591.1 L547.6 589.6 L547.9 588.1 L548.1 586.6 L548.4 585.2 L548.6 583.7 L548.9 582.2 L549.1 580.7 L549.4 579.2 L549.6 577.8 L549.9 576.3 L550.1 574.8 L550.4 573.3 L550.6 571.9 L550.9 570.4 L551.1 568.9 L551.4 567.4 L551.7 566.0 L551.9 564.5 L552.2 563.0 L552.5 561.6 L552.7 560.1 L553.0 558.6 L553.3 557.1 L553.5 555.7 L553.8 554.2 L554.1 552.7 L554.3 551.3 L554.6 549.8 L554.9 548.3 L555.1 546.9 L555.4 545.4 L555.7 543.9 L555.9 542.5 L556.2 541.0 L556.5 539.5 L556.8 538.1 L557.0 536.6 L557.3 535.1 L557.6 533.7 L557.9 532.2 L558.1 530.7 L558.4 529.3 L558.7 527.8 L559.0 526.3 L559.2 524.9 L559.5 523.4 L559.8 521.9 L560.1 520.5 L560.4 519.0 L560.6 517.5 L560.9 516.1 L561.2 514.6 L561.5 513.1 L561.7 511.7 L562.0 510.2 L562.3 508.7 L562.6 507.3 L562.9 505.8 L563.1 504.3 L563.4 502.9 L563.7 501.4 L564.0 499.9 L564.2 498.5 L564.5 497.0 L564.8 495.5 L565.1 494.1 L565.4 492.6 L565.6 491.1 L565.9 489.7 L566.2 488.2 L566.5 486.7 L566.7 485.3 L567.0 483.8 L567.3 482.3 L567.6 480.8 L567.8 479.4 L568.1 477.9 L568.4 476.4 L568.7 475.0 L568.9 473.5 L569.2 472.0 L569.5 470.5 L569.7 469.1 L570.0 467.6 L570.3 466.1 L570.5 464.6 L570.8 463.2 L571.1 461.7 L571.3 460.2 L571.6 458.7 L571.9 457.3 L572.1 455.8 L572.4 454.3 L572.7 452.8 L572.9 451.3 L573.2 449.8 L573.4 448.4 L573.7 446.9 L574.0 445.4 L574.2 443.9 L574.5 442.4 L574.7 440.9 L575.0 439.5 L575.2 438.0 L575.5 436.5 L575.7 435.0 L576.0 433.5 L576.2 432.0 L576.5 430.5 L576.7 429.0 L577.0 427.5 L577.2 426.1 L577.5 424.6 L577.8 423.1 L578.0 421.6 L578.3 420.1" stroke="#e2383c" stroke-width="2.9" stroke-linecap="round"/>
<path d="M533.2 680.5 L533.4 679.0 L533.6 677.6 L533.7 676.1 L533.9 674.7 L534.1 673.2 L534.3 671.8 L534.6 670.3 L534.8 668.8 L535.0 667.4 L535.2 665.9 L535.5 664.5 L535.7 663.0 L536.0 661.6 L536.2 660.1 L536.4 658.7 L536.7 657.2 L536.9 655.8 L537.2 654.3 L537.4 652.9 L537.6 651.4 L537.9 650.0 L538.1 648.5 L538.4 647.1 L538.6 645.6 L538.9 644.2 L539.1 642.7 L539.3 641.3 L539.6 639.8 L539.8 638.4 L540.1 636.9 L540.3 635.5 L540.6 634.0 L540.8 632.6 L541.1 631.1 L541.3 629.7 L541.6 628.2 L541.8 626.8 L542.2 625.4 L542.4 623.9 L542.6 622.4 L542.8 620.9 L543.0 619.4 L543.2 617.9 L543.5 616.4 L543.7 614.9 L543.9 613.4 L544.1 611.9 L544.3 610.4 L544.6 608.9 L544.8 607.4 L545.0 606.0 L545.3 604.5 L545.5 603.0 L545.7 601.5 L545.9 600.0 L546.2 598.5 L546.4 597.0 L546.7 595.5 L546.9 594.1 L547.1 592.6 L547.4 591.1 L547.6 589.6 L547.9 588.1 L548.1 586.6 L548.4 585.2 L548.6 583.7 L548.9 582.2 L549.1 580.7 L549.4 579.2 L549.6 577.8 L549.9 576.3 L550.1 574.8 L550.4 573.3 L550.6 571.9 L550.9 570.4 L551.1 568.9 L551.4 567.4 L551.7 566.0 L551.9 564.5 L552.2 563.0 L552.5 561.6 L552.7 560.1 L553.0 558.6 L553.3 557.1 L553.5 555.7 L553.8 554.2 L554.1 552.7 L554.3 551.3 L554.6 549.8 L554.9 548.3 L555.1 546.9 L555.4 545.4 L555.7 543.9 L555.9 542.5 L556.2 541.0 L556.5 539.5 L556.8 538.1 L557.0 536.6 L557.3 535.1 L557.6 533.7 L557.9 532.2 L558.1 530.7 L558.4 529.3 L558.7 527.8 L559.0 526.3 L559.2 524.9 L559.5 523.4 L559.8 521.9 L560.1 520.5 L560.4 519.0 L560.6 517.5 L560.9 516.1 L561.2 514.6 L561.5 513.1 L561.7 511.7 L562.0 510.2 L562.3 508.7 L562.6 507.3 L562.9 505.8 L563.1 504.3 L563.4 502.9 L563.7 501.4 L564.0 499.9 L564.2 498.5 L564.5 497.0 L564.8 495.5 L565.1 494.1 L565.4 492.6 L565.6 491.1 L565.9 489.7 L566.2 488.2 L566.5 486.7 L566.7 485.3 L567.0 483.8 L567.3 482.3 L567.6 480.8 L567.8 479.4 L568.1 477.9 L568.4 476.4 L568.7 475.0 L568.9 473.5 L569.2 472.0 L569.5 470.5" stroke="#e2383c" stroke-width="3.0" stroke-linecap="round"/>
</g>
<g font-family="'Liberation Serif','Times New Roman',serif" font-weight="bold" font-size="33px" fill="#000">
<text x="254.1" y="765.2" text-anchor="middle">-2</text>
<text x="393.6" y="765.2" text-anchor="middle">-1</text>
<text x="533.8" y="765.2" text-anchor="middle">0</text>
<text x="673.2" y="765.2" text-anchor="middle">1</text>
<text x="812.7" y="765.2" text-anchor="middle">2</text>
<text transform="translate(166.2,222.7) scale(0.95,1)" text-anchor="end">10<tspan font-size="22.6px" dy="-13.5">-3</tspan></text>
<text transform="translate(166.2,325.0) scale(0.95,1)" text-anchor="end">10<tspan font-size="22.6px" dy="-13.5">-5</tspan></text>
<text transform="translate(166.2,427.2) scale(0.95,1)" text-anchor="end">10<tspan font-size="22.6px" dy="-13.5">-7</tspan></text>
<text transform="translate(166.2,529.4) scale(0.95,1)" text-anchor="end">10<tspan font-size="22.6px" dy="-13.5">-9</tspan></text>
<text transform="translate(166.2,631.7) scale(0.95,1)" text-anchor="end">10<tspan font-size="22.6px" dy="-13.5">-11</tspan></text>
<text transform="translate(166.2,733.9) scale(0.95,1)" text-anchor="end">10<tspan font-size="22.6px" dy="-13.5">-13</tspan></text>
</g>
<g font-family="'Liberation Serif','Times New Roman',serif" font-weight="bold" font-size="36.7px" fill="#000">
<text x="190.3" y="280.6" textLength="374.3" lengthAdjust="spacingAndGlyphs">Without dopants source</text>
<text x="235.6" y="559" textLength="233.2" lengthAdjust="spacingAndGlyphs">RTP time: 10 s</text>
<text x="197.4" y="703.3" textLength="233.4" lengthAdjust="spacingAndGlyphs">RTP time: 30 s</text>
</g>
<line x1="498.8" y1="345.8" x2="490.6" y2="306.5" stroke="#0a0ad2" stroke-width="2.4"/><polygon points="487.6,291.8 496.0,306.4 485.7,308.5" fill="#0a0ad2"/>
<line x1="454.5" y1="622.5" x2="446.7" y2="583.2" stroke="#e81414" stroke-width="2.6"/><polygon points="443.8,568.5 452.0,583.2 441.7,585.2" fill="#e81414"/>
<line x1="479.5" y1="657.0" x2="442.9" y2="683.9" stroke="#000" stroke-width="2.6"/><polygon points="431.2,692.5 440.6,679.1 446.8,687.5" fill="#000"/>
<g font-family="'Liberation Serif','Times New Roman',serif" font-weight="bold" fill="#000">
<text x="472.8" y="818.3" font-size="46.5px"><tspan font-style="italic">V</tspan><tspan font-size="31.5px" dy="13.2" dx="-1.7">d</tspan><tspan dy="-13.2" dx="1.5"> (V)</tspan></text>
<text transform="translate(80.3,499.6) rotate(-90)" font-size="47px"><tspan font-style="italic">I</tspan><tspan font-size="31.5px" dy="12.8" dx="1.8">d</tspan><tspan dy="-12.8" dx="2.3"> (A)</tspan></text>
</g>
</svg>
</body></html>
